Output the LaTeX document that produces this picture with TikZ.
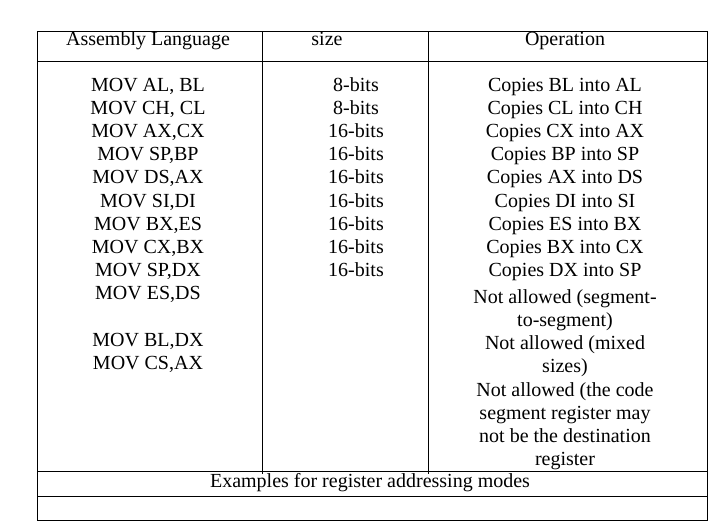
\documentclass[tikz,border=0pt]{standalone}
\usepackage{fontspec}
\setmainfont{Liberation Serif}
\tikzset{cell/.style={inner sep=0pt, text height=1.5ex, text depth=.25ex, font=\fontsize{20}{23.3}\selectfont}}
\begin{document}
\begin{tikzpicture}[x=1pt,y=-1pt]
\useasboundingbox (0,0) rectangle (720,531);
% Frame and rules
\draw (37,31) rectangle (707,520);
\draw (37,61) -- (707,61);
\draw (262,31) -- (262,474);
\draw (428,31) -- (428,474);
\draw (37,471) -- (707,471);
\draw (37,496) -- (707,496);

% Header
\node[cell] (hasm) at (148,43) {Assembly Language};
\node[cell] (hsize) at (327,43) {size};
\node[cell] (hop) at (565,43) {Operation};

% Instruction rows
\foreach \i/\ins/\sz/\op in {1/MOV AL{,} BL/8-bits/Copies BL into AL,
  2/MOV CH{,} CL/8-bits/Copies CL into CH,
  3/MOV AX{,}CX/16-bits/Copies CX into AX,
  4/MOV SP{,}BP/16-bits/Copies BP into SP,
  5/MOV DS{,}AX/16-bits/Copies AX into DS,
  6/MOV SI{,}DI/16-bits/Copies DI into SI,
  7/MOV BX{,}ES/16-bits/Copies ES into BX,
  8/MOV CX{,}BX/16-bits/Copies BX into CX,
  9/MOV SP{,}DX/16-bits/Copies DX into SP}{
  \node[cell] (ins\i) at (148,65+23.2*\i) {\ins};
  \node[cell] (sz\i) at (356,65+23.2*\i) {\sz};
  \node[cell] (op\i) at (565,65+23.2*\i) {\op};
}

% Rows that are not allowed
\node[cell] (ins10) at (148,297) {MOV ES,DS};
\node[cell] (ins11) at (148,344) {MOV BL,DX};
\node[cell] (ins12) at (148,367) {MOV CS,AX};
\node[cell, align=center, text height=, text depth=, anchor=north] (op10) at (565,289) {Not allowed (segment-\\to-segment)};
\node[cell, align=center, text height=, text depth=, anchor=north] (op11) at (565,335) {Not allowed (mixed\\sizes)};
\node[cell, align=center, text height=, text depth=, anchor=north] (op12) at (565,382) {Not allowed (the code\\segment register may\\not be the destination\\register};

% Caption
\node[cell] (caption) at (370,485) {Examples for register addressing modes};
\end{tikzpicture}
\end{document}
